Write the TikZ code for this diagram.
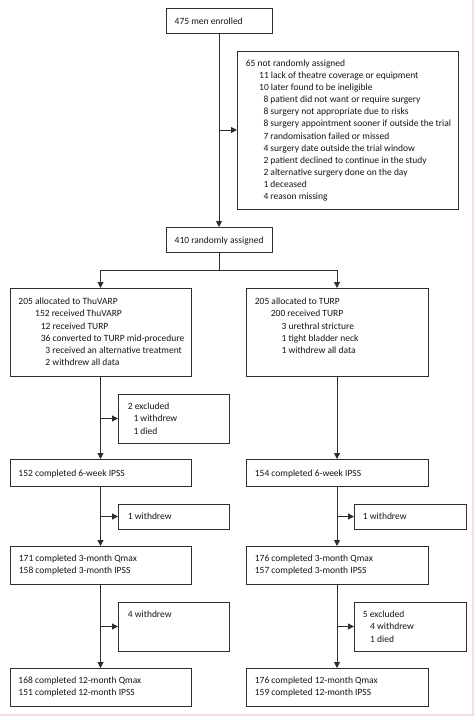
\documentclass[tikz,border=0pt]{standalone}
\usepackage{fontspec}
\setmainfont{Carlito}
\usetikzlibrary{arrows.meta,calc}
\definecolor{linec}{HTML}{2E2E2E}
\definecolor{textc}{HTML}{151515}
\definecolor{edgepink}{HTML}{F4DEE5}
\newcommand\ind[1]{\hspace*{#1pt}}
\newcommand\flowbox[5]{\node[box, minimum width={(#4)-(#2)}, minimum height={(#5)-(#3)}] (#1) at (#2,#3) {};}
\begin{document}
\begin{tikzpicture}[x=1pt,y=-1pt,
  box/.style={draw=linec, line width=1pt, inner sep=0pt, outer sep=0pt, anchor=north west},
  txt/.style={anchor=north west, inner sep=0pt, align=left, font=\fontsize{9.5}{12.15}\selectfont, text=textc},
  conn/.style={draw=linec, line width=1pt},
  arr/.style={conn, -{Triangle[length=6pt,width=6pt]}}]
\useasboundingbox (0,0) rectangle (474,716);
\fill[edgepink] (471.5,0) rectangle (474,716);
\fill[edgepink] (0,713.5) rectangle (474,716);

% boxes
\flowbox{enr}{166}{8}{272}{33}
\flowbox{notr}{237}{51}{458}{209}
\flowbox{rand}{166}{227}{272}{252}
\flowbox{lalloc}{10}{288}{191}{376}
\flowbox{ralloc}{246}{288}{428}{376}
\flowbox{lexc}{118}{394}{229}{443}
\flowbox{lsix}{10}{459}{191}{486}
\flowbox{rsix}{246}{459}{428}{486}
\flowbox{lwa}{118}{504}{229}{529}
\flowbox{rwa}{354}{504}{466}{529}
\flowbox{lthree}{10}{546}{191}{584}
\flowbox{rthree}{246}{546}{428}{584}
\flowbox{lwb}{118}{602}{229}{651}
\flowbox{rexc}{354}{602}{466}{651}
\flowbox{ltwelve}{10}{668}{191}{706}
\flowbox{rtwelve}{246}{668}{428}{706}

% texts
\node[txt] (enr-t) at ($(enr.north west)+(8.5,8)$) {\strut 475 men enrolled};
\node[txt] (notr-t) at ($(notr.north west)+(8.7,6.5)$) {\strut 65 not randomly assigned\\
\ind{13.3}11 lack of theatre coverage or equipment\\
\ind{13.3}10 later found to be ineligible\\
\ind{17.6}8 patient did not want or require surgery\\
\ind{17.6}8 surgery not appropriate due to risks\\
\ind{17.6}8 surgery appointment sooner if outside the trial\\
\ind{17.6}7 randomisation failed or missed\\
\ind{17.6}4 surgery date outside the trial window\\
\ind{17.6}2 patient declined to continue in the study\\
\ind{17.6}2 alternative surgery done on the day\\
\ind{17.6}1 deceased\\
\ind{17.6}4 reason missing};
\node[txt] (rand-t) at ($(rand.north west)+(8.5,8)$) {\strut 410 randomly assigned};
\node[txt] (lalloc-t) at ($(lalloc.north west)+(8.3,8)$) {\strut 205 allocated to ThuVARP\\
\ind{16.7}152 received ThuVARP\\
\ind{22.4}12 received TURP\\
\ind{22.4}36 converted to TURP mid-procedure\\
\ind{27}3 received an alternative treatment\\
\ind{27}2 withdrew all data};
\node[txt] (ralloc-t) at ($(ralloc.north west)+(8.7,8)$) {\strut 205 allocated to TURP\\
\ind{16}200 received TURP\\
\ind{26.7}3 urethral stricture\\
\ind{26.7}1 tight bladder neck\\
\ind{26.7}1 withdrew all data};
\node[txt] (lexc-t) at ($(lexc.north west)+(9.7,7)$) {\strut 2 excluded\\
\ind{5.6}1 withdrew\\
\ind{5.6}1 died};
\node[txt] (lsix-t) at ($(lsix.north west)+(8.3,9)$) {\strut 152 completed 6-week IPSS};
\node[txt] (rsix-t) at ($(rsix.north west)+(8.7,9)$) {\strut 154 completed 6-week IPSS};
\node[txt] (lwa-t) at ($(lwa.north west)+(9.7,7)$) {\strut 1 withdrew};
\node[txt] (rwa-t) at ($(rwa.north west)+(8.7,7)$) {\strut 1 withdrew};
\node[txt] (lthree-t) at ($(lthree.north west)+(8.7,7)$) {\strut 171 completed 3-month Qmax\\
158 completed 3-month IPSS};
\node[txt] (rthree-t) at ($(rthree.north west)+(8.7,7)$) {\strut 176 completed 3-month Qmax\\
157 completed 3-month IPSS};
\node[txt] (lwb-t) at ($(lwb.north west)+(9.7,7)$) {\strut 4 withdrew};
\node[txt] (rexc-t) at ($(rexc.north west)+(8.7,7)$) {\strut 5 excluded\\
\ind{7.3}4 withdrew\\
\ind{7.3}1 died};
\node[txt] (ltwelve-t) at ($(ltwelve.north west)+(8.3,7)$) {\strut 168 completed 12-month Qmax\\
151 completed 12-month IPSS};
\node[txt] (rtwelve-t) at ($(rtwelve.north west)+(8.7,7)$) {\strut 176 completed 12-month Qmax\\
159 completed 12-month IPSS};

% connectors
\draw[arr] (enr.south) -- (rand.north);
\draw[arr] (enr.south |- notr.west) -- (notr.west);
\coordinate (brk) at ($(rand.south)+(0,18.7)$);
\draw[conn] (rand.south) -- (brk);
\draw[arr] (brk) -| (lalloc.north);
\draw[arr] (brk) -| (ralloc.north);
\draw[arr] (lalloc.south) -- (lsix.north);
\draw[arr] (lalloc.south |- lexc.west) -- (lexc.west);
\draw[arr] (ralloc.south) -- (rsix.north);
\draw[arr] (lsix.south) -- (lthree.north);
\draw[arr] (lsix.south |- lwa.west) -- (lwa.west);
\draw[arr] (rsix.south) -- (rthree.north);
\draw[arr] (rsix.south |- rwa.west) -- (rwa.west);
\draw[arr] (lthree.south) -- (ltwelve.north);
\draw[arr] (lthree.south |- lwb.west) -- (lwb.west);
\draw[arr] (rthree.south) -- (rtwelve.north);
\draw[arr] (rthree.south |- rexc.west) -- (rexc.west);
\end{tikzpicture}
\end{document}
